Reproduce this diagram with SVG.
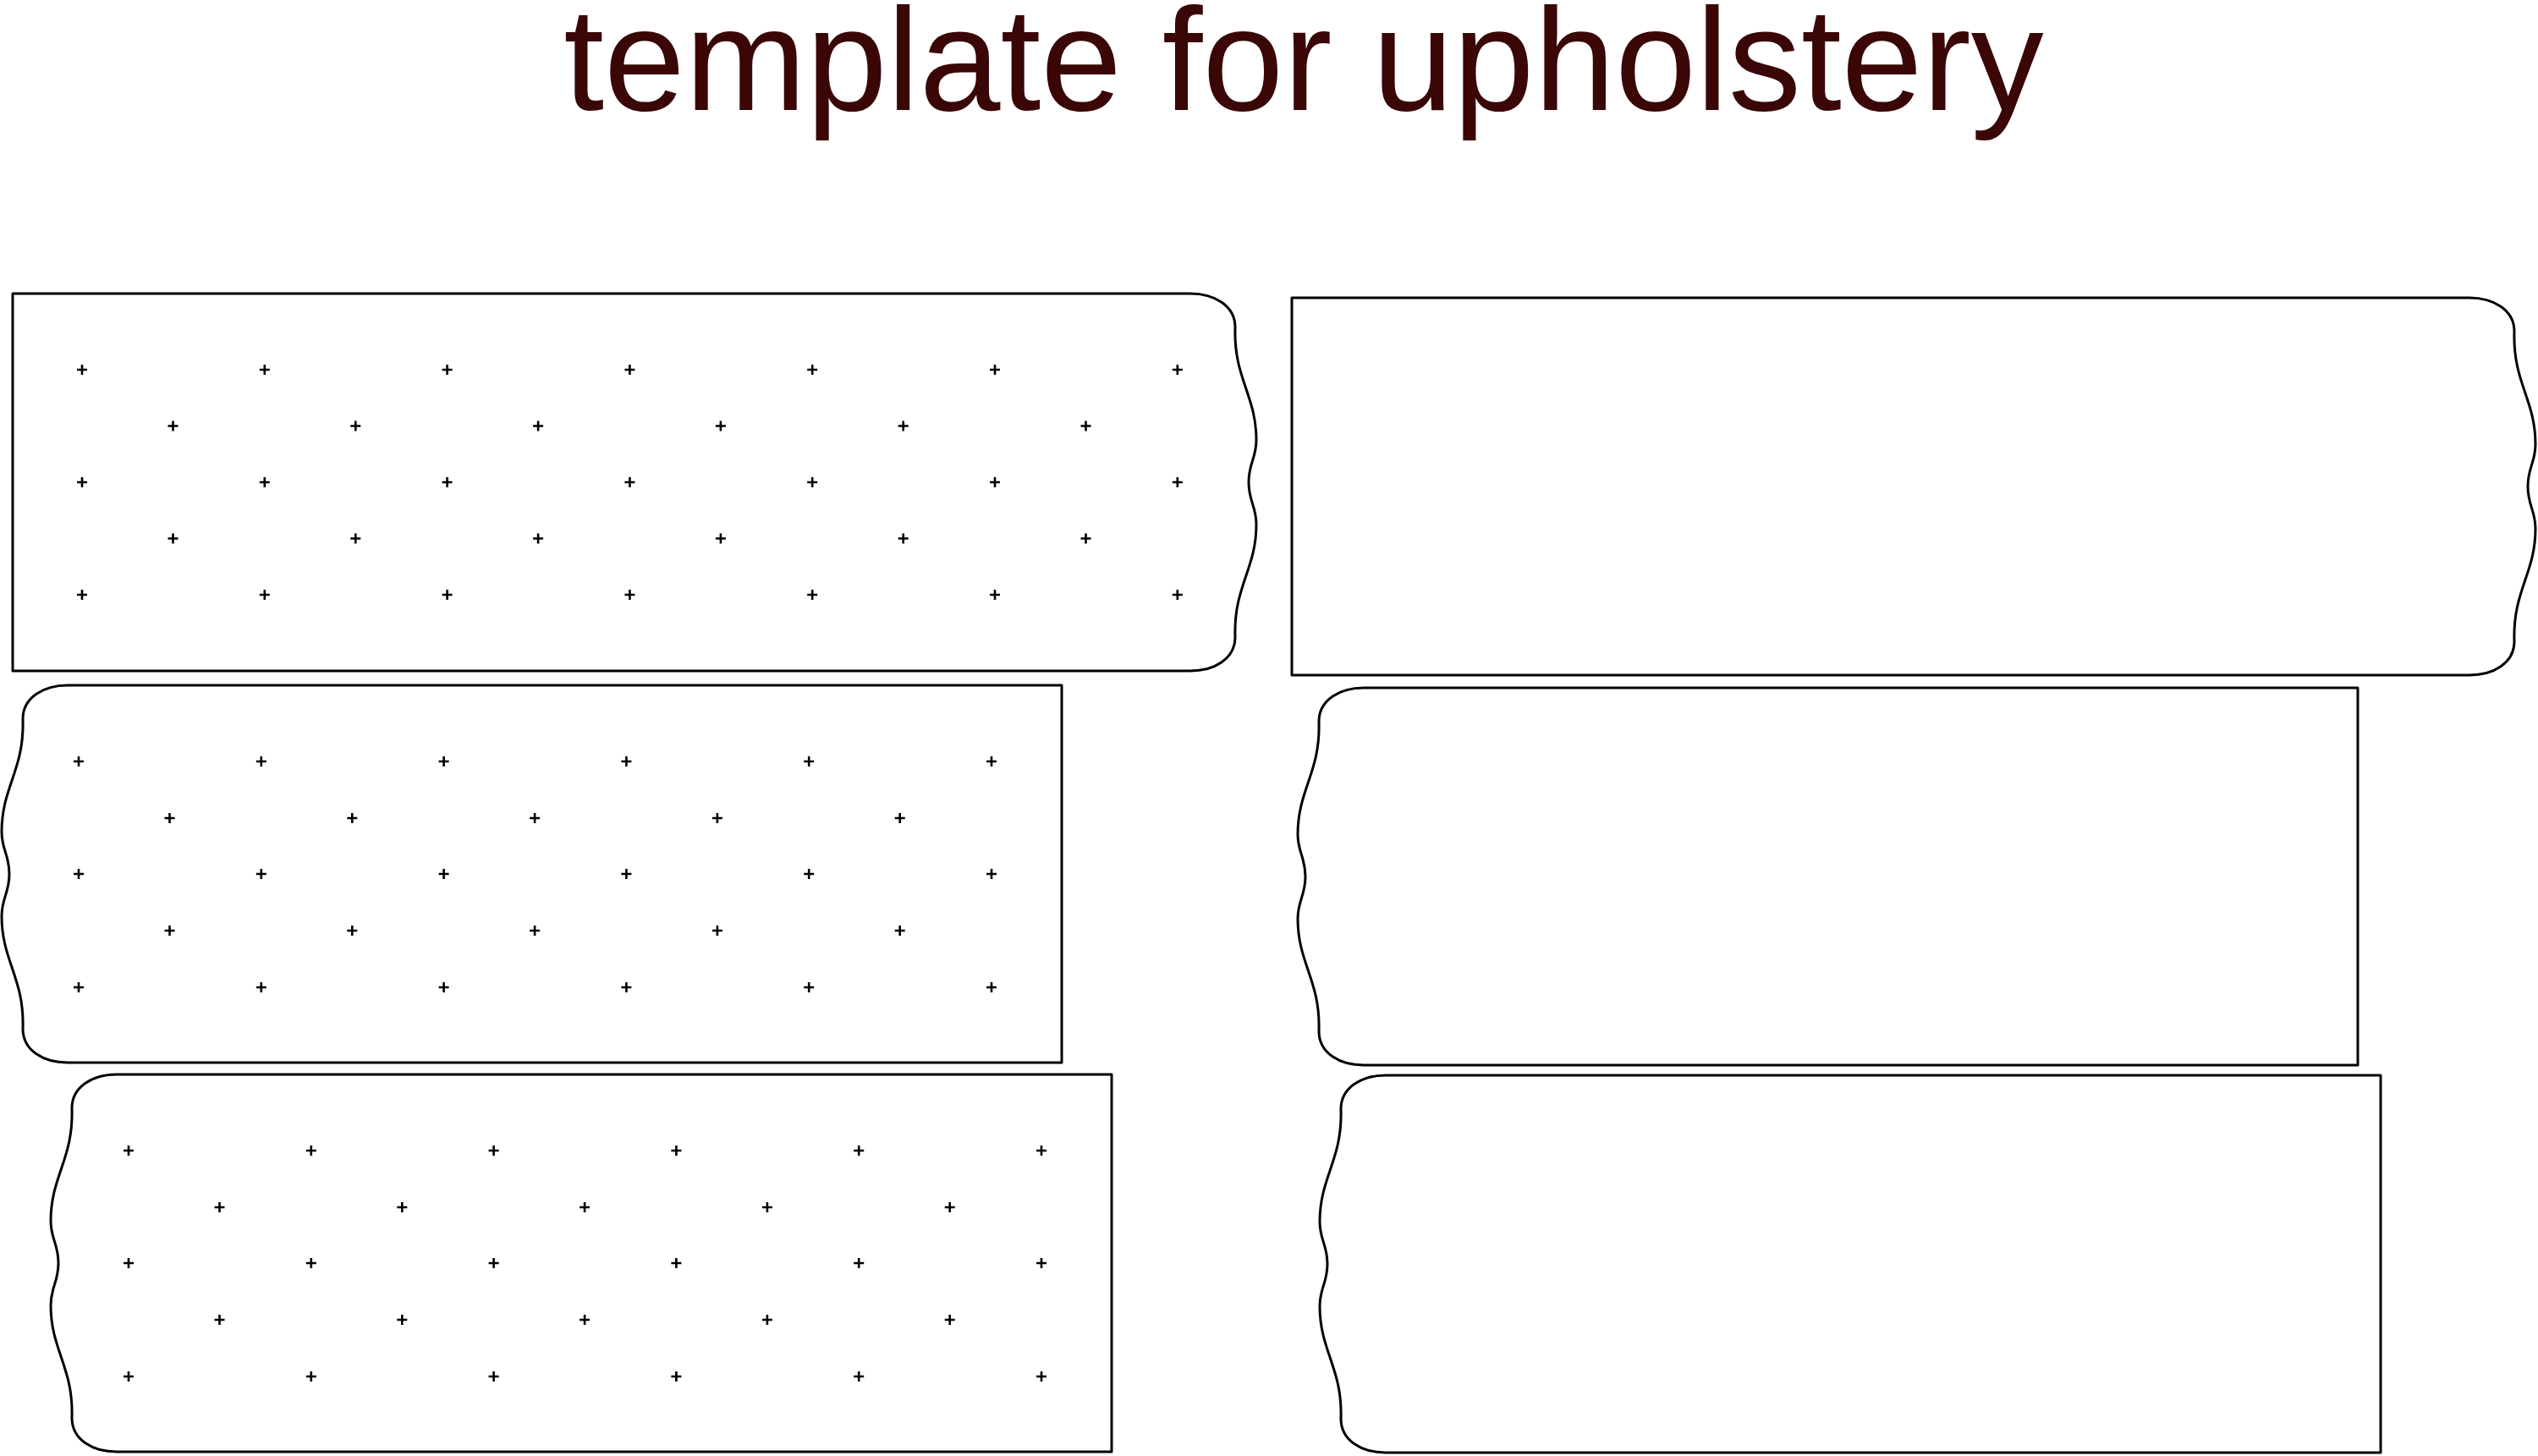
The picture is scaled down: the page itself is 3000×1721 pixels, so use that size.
<svg xmlns="http://www.w3.org/2000/svg" xmlns:xlink="http://www.w3.org/1999/xlink" width="3000" height="1721" viewBox="0 0 3000 1721">
<style>
.panel{fill:#ffffff;stroke:#000000;stroke-width:3;stroke-linejoin:round}
.title{font-family:"Liberation Sans",Arial,sans-serif;font-size:172px;fill:#3a0606}
.x{stroke:#000000;stroke-width:2.6;fill:none}
</style>
<defs>
<path id="c" class="x" d="M-6,0H6M0,-6V6"/>
<g id="rowA7"><use href="#c" x="0"/><use href="#c" x="215.8"/><use href="#c" x="431.6"/><use href="#c" x="647.4"/><use href="#c" x="863.2"/><use href="#c" x="1079"/><use href="#c" x="1294.8"/></g>
<g id="rowA6"><use href="#c" x="0"/><use href="#c" x="215.8"/><use href="#c" x="431.6"/><use href="#c" x="647.4"/><use href="#c" x="863.2"/><use href="#c" x="1079"/></g>
<g id="rowB5"><use href="#c" x="0"/><use href="#c" x="215.8"/><use href="#c" x="431.6"/><use href="#c" x="647.4"/><use href="#c" x="863.2"/></g>
</defs>
<rect width="3000" height="1721" fill="#ffffff"/>
<text class="title" x="1541" y="130" text-anchor="middle">template for upholstery</text>

<g id="panel1">
<path class="panel" d="M15,347 H1407 c28,0 53,14 53,40 c-2,60 25,80 25,133 c0,22 -9,27 -9,50 c0,23 9,28 9,50 c0,53 -27,73 -25,133 c0,26 -25,40 -53,40 H15 Z"/>
<use href="#rowA7" x="97" y="437"/>
<use href="#rowA6" x="204.5" y="503.5"/>
<use href="#rowA7" x="97" y="570"/>
<use href="#rowA6" x="204.5" y="636.5"/>
<use href="#rowA7" x="97" y="703"/>
</g>

<g id="panel2">
<path class="panel" d="M1255,810 H80 c-28,0 -53,14 -53,40 c2,60 -25,80 -25,133 c0,22 9,27 9,50 c0,23 -9,28 -9,50 c0,53 27,73 25,133 c0,26 25,40 53,40 H1255 Z"/>
<use href="#rowA6" x="93" y="900"/>
<use href="#rowB5" x="200.5" y="967"/>
<use href="#rowA6" x="93" y="1033"/>
<use href="#rowB5" x="200.5" y="1100"/>
<use href="#rowA6" x="93" y="1167"/>
</g>

<g id="panel3">
<path class="panel" d="M1314,1270 H138 c-28,0 -53,14 -53,40 c2,60 -25,80 -25,133 c0,22 9,27 9,50 c0,23 -9,28 -9,50 c0,53 27,73 25,133 c0,26 25,40 53,40 H1314 Z"/>
<use href="#rowA6" x="152" y="1360"/>
<use href="#rowB5" x="259.5" y="1427"/>
<use href="#rowA6" x="152" y="1493"/>
<use href="#rowB5" x="259.5" y="1560"/>
<use href="#rowA6" x="152" y="1627"/>
</g>

<g id="panel4">
<path class="panel" d="M2787,813 H1612 c-28,0 -53,14 -53,40 c2,60 -25,80 -25,133 c0,22 9,27 9,50 c0,23 -9,28 -9,50 c0,53 27,73 25,133 c0,26 25,40 53,40 H2787 Z"/>
</g>

<g id="panel5">
<path class="panel" d="M1527,352 H2919 c28,0 53,14 53,40 c-2,60 25,80 25,133 c0,22 -9,27 -9,50 c0,23 9,28 9,50 c0,53 -27,73 -25,133 c0,26 -25,40 -53,40 H1527 Z"/>
</g>

<g id="panel6">
<path class="panel" d="M2814,1271 H1638 c-28,0 -53,14 -53,40 c2,60 -25,80 -25,133 c0,22 9,27 9,50 c0,23 -9,28 -9,50 c0,53 27,73 25,133 c0,26 25,40 53,40 H2814 Z"/>
</g>

<g id="connectors"/>
</svg>
